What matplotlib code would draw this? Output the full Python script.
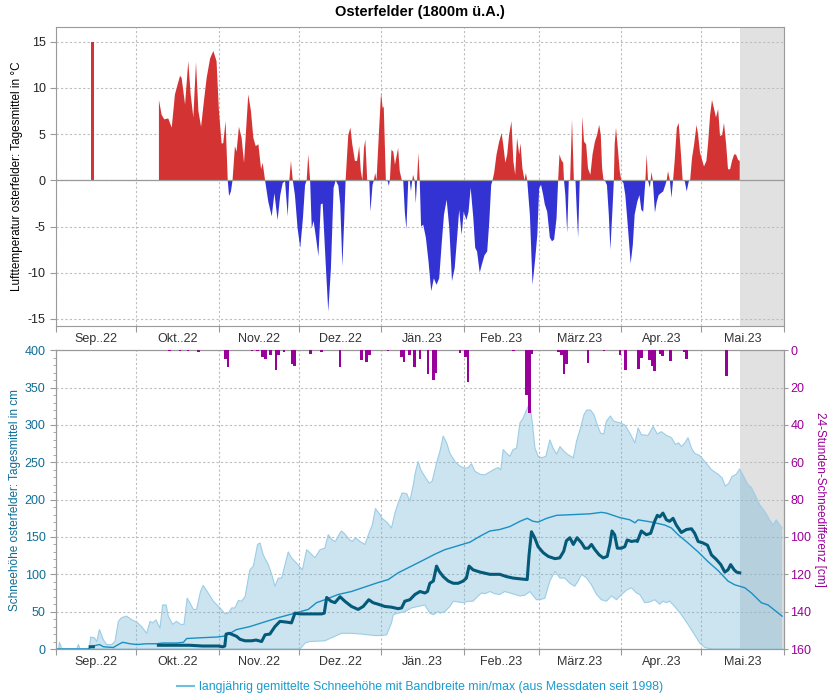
import numpy as np
import matplotlib
matplotlib.use("Agg")
import matplotlib.pyplot as plt
from matplotlib.lines import Line2D
from matplotlib.ticker import MultipleLocator, FixedLocator, NullFormatter

plt.rcParams['font.family'] = ['Liberation Sans', 'DejaVu Sans']
plt.rcParams['axes.unicode_minus'] = False

# x values: days since 2022-09-01
month_starts = [0, 30, 61, 91, 122, 153, 181, 212, 242, 273]
month_labels = ["Sep..22", "Okt..22", "Nov..22", "Dez..22", "Jän..23",
                "Feb..23", "März.23", "Apr..23", "Mai.23"]
last_data_day = 256.4

# daily mean air temperature (°C)
temp_day = [13.3, 14.3, 14.4,
            38.6, 39.6, 40.6, 42.1, 43.4, 44.6, 46.5, 47.1, 48.4, 49.6, 50.5, 51.5, 52.5,
            53.4, 54.4, 55.6, 56.5, 57.8, 59.0, 60.2, 61.1, 62.1, 62.7, 63.6, 64.4, 64.9,
            65.6, 66.2, 67.1, 67.7, 68.6, 69.6, 70.5, 71.1, 72.1, 73.1, 74.0, 74.9, 75.9,
            76.9, 77.5, 78.4, 79.6, 80.9, 81.9, 83.1, 84.1, 85.0, 85.9, 86.9, 87.5, 88.1,
            88.8, 89.6, 90.6, 91.6, 92.6, 93.4, 94.0, 94.6, 95.3, 95.9, 96.6, 97.5, 98.4,
            99.3, 100.0, 101.1, 102.1, 103.1, 104.1, 104.9, 105.9, 106.6, 107.4, 108.1,
            108.6, 109.6, 110.4, 111.1, 112.1,
            112.9, 113.7, 114.3, 114.9, 115.5, 116.0, 116.7, 117.5, 117.9, 118.7, 119.2,
            119.7, 120.2, 121.2, 121.9, 122.5, 122.9, 123.7, 124.3, 124.8, 125.2, 125.8,
            126.5, 127.1, 127.7, 128.3, 128.9, 129.7, 130.2, 130.8, 131.4, 132.1, 132.7,
            133.1, 133.6, 133.9, 134.5, 134.9, 135.4, 135.9, 136.4, 136.9, 137.7, 138.7,
            139.7, 140.7, 141.7, 142.7, 143.7, 144.7, 145.5, 146.5, 147.5, 148.5, 149.5,
            150.5, 151.2, 152.1, 152.9, 153.9, 154.7, 155.5, 156.5, 157.2, 157.9, 158.9,
            159.7, 160.7, 161.7, 162.5, 163.2, 163.7, 164.3, 165.2, 166.2, 167.1, 167.7,
            168.5, 169.2, 169.9, 170.8, 171.5, 172.2, 172.9, 173.7, 174.2, 174.9, 175.7,
            176.2, 176.7, 177.7, 178.7, 179.6, 180.5, 181.2, 181.9, 182.7, 183.3, 184.2,
            185.2, 186.0, 186.8, 187.7, 188.3, 188.8, 189.5, 190.2, 190.5, 191.0, 191.7,
            192.3, 192.8, 193.5, 194.2, 194.8, 195.3, 195.8, 196.4, 196.9, 197.4, 198.0,
            198.8, 199.5, 200.4, 201.2, 202.1, 202.9, 203.7, 204.3, 204.8, 205.3, 205.8,
            206.6, 207.3, 207.9, 208.7, 209.2, 209.5, 210.0, 210.8, 211.4, 212.0, 212.8,
            213.5, 214.5, 215.5, 216.3, 217.0, 218.0, 218.8, 219.5, 220.2, 221.0, 221.5,
            222.0, 222.7, 223.3, 223.8, 224.6, 225.3, 226.0, 226.8, 227.7, 228.5, 229.0,
            229.5, 230.2, 230.8, 231.4, 232.0, 232.8, 233.5, 234.3, 235.0, 235.8, 236.5,
            237.3, 237.8, 238.5, 239.3, 240.2, 240.8, 241.5, 242.3, 243.0, 243.9, 244.5,
            245.3, 246.0, 246.8, 247.5, 248.3, 249.0, 249.8, 250.5, 251.3, 252.0, 252.8,
            253.5, 254.3, 255.0, 255.8, 256.4]
temp_val = [15, 15, np.nan,
            8.7, 7.1, 6.6, 6.7, 5.7, 9.3, 11.3, 11.1, 8.2, 12.9, 9.3, 6.8, 12.8,
            7.5, 5.8, 8.9, 11.1, 13.2, 14.0, 12.9, 7.5, 4.0, 4.0, 6.4, 0, -1.7,
            -1.2, 0, 3.7, 3.1, 5.8, 4.6, 1.9, 4.6, 9.3, 7.5, 4.6, 3.7, 3.9,
            1.2, 1.9, 0, -2.3, -3.9, -1.4, -4.3, -1.6, -0.3, -0.1, -3.9, 0, 2.1,
            0, -1.6, -5.2, -7.3, -4.1, -0.5, 0, 2.8, 0, -5.2, -4.4, -6.2, -8.2,
            -2.6, -2.5, -8.8, -14.2, -9.5, -0.8, 0, -0.6, -2.6, -9.3, -4.1,
            0, 4.9, 5.7, 3.9, 2.1,
            2.1, 3.7, 1.0, 0, 3.5, 4.4, 0, 0, -3.4, -0.5, 0,
            0.8, 0, 5.7, 9.5, 7.8, 8.0, 0, 0, -0.6, 0, 3.3,
            3.1, 1.7, 2.6, 3.5, 1.0, 0, 0, -3.4, -5.3, 0, -0.1,
            -1.2, 0, 0.6, 0, -2.5, 0, 3.0, 0, -5.0, -4.8, -6.2,
            -8.8, -12.0, -10.6, -11.3, -10.6, -6.6, -3.7, -2.1, -5.2, -10.9, -9.5,
            -5.9, -3.2, -5.9, -3.4, -4.3, -3.4, -0.8, -4.1, -7.3, -7.7, -10.0,
            -9.1, -8.1, -7.7, -4.4, -0.5, 0, 0.8, 2.8, 4.2, 5.1, 3.9,
            1.9, 2.8, 4.9, 6.4, 2.1, 0.6, 4.6, 2.8, 4.0, 1.3, 0,
            0.8, 0, -3.7, -11.3, -8.8, -5.9, -0.8, -0.5, -1.6, -2.6, -3.4,
            -6.2, -6.6, -6.4, -4.1, 0, 2.8, 2.2, 1.9, 0, -1.6, -5.7,
            0, 0, 6.6, 0, 0, -3.4, -6.2, 0, 0, 6.9, 4.2,
            3.9, 1.3, 0.6, 2.8, 4.2, 4.9, 6.0, 4.9, 1.3, 0.1, 0,
            -0.5, -3.7, -7.5, -3.0, 0, 3.9, 5.7, 3.1, 1.0, 0, -0.3,
            -1.6, -5.2, -9.0, -7.0, -3.7, -2.3, -1.6, -3.2, -3.4, -0.1, 2.8,
            0, -0.8, 0.9, 0, -3.5, -2.3, -1.6, -1.4, -1.2, -0.5, 0,
            1.0, 0, -1.9, 0, 2.1, 5.7, 6.2, 3.1, 0, -0.1, -1.2,
            -0.1, 0, 2.4, 3.9, 6.0, 4.9, 3.0, 2.2, 1.5, 2.1, 3.9,
            7.1, 8.7, 7.7, 6.8, 7.7, 4.8, 4.9, 6.2, 3.9, 1.2, 1.2,
            2.1, 2.8, 2.8, 2.2, 2.1]

# long-term snow depth band (cm)
band_max_day = [0, 1.0, 1.3, 2.2, 7.8, 8.4, 9.0, 12.5, 13.0, 14.4, 15.3, 16.3, 17.8, 19.0,
                20.9, 22.1, 23.4, 24.6, 26.5, 28.4, 30.3, 32.1, 34.0, 35.3, 36.3, 37.5,
                39.0, 40.0, 41.3, 42.1, 43.7, 45.2, 46.7, 48.0, 49.2, 50.2, 51.5, 52.7,
                54.2, 55.2, 56.7, 59.0, 61.5, 63.4, 64.6, 65.9, 67.1, 68.4, 69.6, 70.9,
                72.7, 74.0, 75.6, 76.5, 77.7, 79.6, 80.9, 82.1, 83.4, 84.6, 85.9, 87.1,
                88.3, 90.2, 92.4, 94.0, 95.2, 97.1, 99.0, 100.8, 102.1, 103.6, 104.8,
                106.1, 107.1, 108.3, 110.2, 111.1, 112.3, 114.0, 115.8, 117.7, 118.6,
                119.8, 121.1, 122.3, 124.3, 125.8, 127.1, 128.3, 129.8, 131.5, 132.7,
                134.0, 134.8, 135.8, 136.8, 138.3, 140.0, 141.1, 142.7, 144.0, 145.2,
                146.5, 147.7, 149.6, 151.4, 153.3, 154.6, 155.8, 157.1, 159.0, 160.8,
                162.1, 164.0, 165.8, 166.8, 167.7, 169.0, 170.2, 171.4, 172.7, 174.0,
                175.2, 176.2, 177.2, 178.0, 178.7, 179.6, 180.8, 182.1, 183.7, 185.2,
                186.4, 187.7, 189.0, 190.4, 192.1, 194.0, 195.2, 196.7, 198.0, 199.0,
                200.4, 201.7, 203.0, 204.2, 205.4, 206.4, 207.9, 209.2, 211.4, 213.3,
                215.2, 217.1, 218.3, 219.5, 222.0, 223.9, 225.5, 227.0, 228.9, 230.8,
                232.3, 233.5, 234.5, 235.8, 237.0, 238.3, 239.5, 241.4, 243.3, 245.8,
                248.3, 249.8, 251.0, 252.3, 253.5, 255.1, 256.4, 257.6, 259.5, 260.8,
                262.0, 263.9, 265.8, 267.6, 268.9, 270.1, 271.4, 272.3]
band_max_val = [0, 0, 9, 0, 0, 6, 0, 0, 16, 15, 10, 26, 12, 6,
                6, 10, 37, 42, 44, 39, 36, 30, 21, 37, 35, 39,
                28, 59, 59, 44, 33, 37, 33, 33, 68, 62, 53, 53,
                77, 85, 77, 64, 55, 47, 48, 55, 55, 65, 64, 70,
                106, 111, 140, 142, 126, 113, 100, 84, 95, 95, 113, 130,
                122, 115, 106, 133, 129, 122, 133, 135, 153, 146, 144,
                153, 158, 154, 146, 144, 149, 144, 140, 158, 166,
                188, 182, 175, 169, 162, 182, 195, 209, 208, 198,
                220, 237, 251, 240, 231, 222, 225, 249, 265, 285,
                276, 262, 251, 245, 242, 243, 248, 238, 234, 233,
                236, 240, 243, 240, 267, 262, 258, 267, 269, 303,
                309, 318, 326, 320, 300, 269, 258, 256, 258, 280,
                269, 261, 271, 265, 260, 256, 278, 296, 314, 320,
                320, 314, 300, 289, 288, 305, 312, 305, 303, 300,
                289, 276, 296, 287, 286, 298, 288, 291, 286, 283,
                274, 276, 271, 276, 283, 269, 262, 259, 251, 240,
                234, 229, 218, 222, 231, 234, 241, 233, 220, 216,
                207, 193, 184, 173, 166, 173, 166, 162]
band_min_day = [0, 91.5, 93.4, 95.2, 100.8, 103.3, 107.1, 110.8, 114.6, 117.1, 119.6,
                122.1, 124.0, 125.8, 126.5, 128.3, 130.8, 133.3, 135.8, 138.3, 140.2,
                141.5, 143.3, 144.0, 145.8, 147.7, 149.0, 150.8, 152.7, 154.6, 156.4,
                158.3, 159.6, 160.8, 162.7, 164.6, 166.4, 168.3, 170.2, 172.1, 174.0,
                175.8, 177.7, 179.0, 180.2, 181.4, 183.3, 185.2, 187.1, 189.0, 190.8,
                192.7, 194.5, 195.8, 197.1, 199.0, 200.8, 202.7, 204.5, 206.4, 208.3,
                210.2, 212.1, 214.0, 215.8, 217.7, 218.9, 220.8, 222.7, 224.5, 226.4,
                227.6, 228.9, 230.1, 232.0, 234.5, 237.0, 239.5, 241.4, 243.3, 244.5,
                247.0, 272.3]
band_min_val = [0, 0, 8, 10, 11, 15, 21, 21, 20, 19, 18,
                18, 19, 35, 46, 48, 50, 55, 57, 59, 48,
                46, 50, 48, 50, 57, 64, 63, 62, 64, 64,
                71, 75, 74, 77, 74, 73, 77, 75, 73, 71,
                72, 77, 71, 66, 66, 68, 91, 104, 95, 95,
                88, 84, 91, 100, 95, 86, 73, 66, 64, 71,
                66, 73, 79, 82, 75, 73, 62, 63, 66, 60,
                64, 62, 64, 57, 46, 33, 19, 8, 2, 1,
                0, 0]

# long-term mean snow depth (cm)
mean_day = [0, 12, 14, 16.3, 17.8, 21.5, 23.4, 25, 27.8, 30.3, 34, 37.7, 40, 45.2, 47.8,
            49, 54, 60.2, 62.7, 65.2, 67.7, 70.2, 72.7, 77.1, 83.4, 89.6, 94.6, 97.7,
            100.8, 105.8, 110.8, 115.8, 120.8, 124.6, 128.3, 133.3, 138.3, 142.1, 145.8,
            147.7, 151.4, 155.2, 159, 162.7, 166.4, 170.2, 174, 176.7, 178.9, 180.8, 184,
            187.7, 194, 200.2, 204.5, 206.4, 211.4, 215.2, 217.1, 218.3, 223.3, 228.3,
            230.8, 233.3, 237, 240.8, 244.5, 248.3, 252, 254.5, 258.3, 260.8, 264.5, 267,
            272.3]
mean_val = [0, 0, 4, 6, 3, 2, 6, 9, 7, 6, 7, 7, 8, 8, 9,
            14, 15, 16, 17, 21, 26, 28, 30, 35, 42, 48, 53, 62,
            66, 73, 77, 83, 89, 93, 102, 111, 120, 127, 133,
            135, 139, 143, 151, 158, 160, 164, 171, 175, 171, 170, 175,
            179, 180, 181, 183, 182, 176, 173, 169, 173, 170, 166,
            162, 153, 142, 130, 117, 105, 91, 86, 82, 75, 62, 59,
            44]

# measured snow depth 2022/23 (cm)
snow_day = [12.8, 14.0, 14.1,
            38.4, 45, 50, 55, 60.9, 62.5, 63.3, 63.8, 65, 67.7, 69, 70.9, 73.4, 75, 77.1,
            78.4, 80.2, 82.1, 84, 86.5, 88.3, 89.6, 91.5, 95.8, 99.6, 100.6, 101.5, 103.1,
            104.6, 106.5, 108.3, 110.8, 113.3, 115.2, 117.3, 118.9, 120.8, 123.3, 125.8,
            128.3, 129.6, 130.8, 132.7, 134.6, 136.5, 138.3, 139.3, 140.2, 141.5, 142.7,
            143.7, 145.2, 147.1, 149, 150.8, 152.7, 153.9, 154.9, 156.4, 159, 162.7, 166.4,
            168.9, 171.4, 173.9, 176.7, 177.4, 178.3, 179.5, 180.8, 182.7, 184.6, 187.1,
            188.9, 190.4, 191.4, 192.7, 194, 195.4, 197.1, 198.3, 199.6, 200.8, 202.1,
            203.7, 205.2, 206.7, 207.7, 208.5, 209.5, 210.5, 212, 213.3, 214.2, 215.8,
            217.4, 218, 219.5, 221.4, 223, 224.5, 225.5, 226.4, 227.6, 228.9, 230.1, 231.4,
            232.6, 234.5, 236.4, 238.3, 239.5, 240.8, 242.6, 244.3, 245.8, 247.6, 249.3,
            250.8, 252, 253, 254.3, 255.2, 256.4]
snow_val = [3, 3, np.nan,
            5, 5, 5, 4, 4, 3, 4, 20, 21, 17, 13, 11, 11, 12, 10,
            19, 20, 30, 37, 36, 35, 48, 47, 47, 47, 48, 69, 64,
            62, 70, 64, 57, 53, 57, 66, 62, 60, 57, 56,
            54, 55, 64, 66, 73, 77, 75, 77, 88, 91, 111,
            104, 97, 91, 88, 88, 91, 95, 111, 106, 103, 100, 100,
            97, 95, 94, 93, 126, 157, 149, 137, 129, 124, 121,
            122, 131, 145, 149, 140, 149, 142, 135, 135, 140, 133,
            126, 122, 124, 140, 158, 153, 135, 135, 137, 146, 144,
            145, 144, 158, 153, 155, 171, 179, 177, 182, 173, 171, 175,
            166, 156, 160, 161, 155, 144, 142, 139, 126, 120, 113,
            103, 106, 113, 106, 103, 102]

# 24-hour new snow (cm)
diff_day = [42, 46, 49, 53, 63, 64, 73, 75, 77, 78, 80, 82, 83, 85, 88, 89, 95, 99, 106,
            114, 116, 117, 124, 129, 130, 132, 134, 136, 139, 141, 142, 151, 153, 154,
            171, 176, 177, 178, 188, 189, 190, 191, 199, 205, 211, 213, 218, 219, 222,
            223, 224, 226, 227, 230, 235, 236, 251]
diff_val = [0.4, 0.4, 0.4, 0.8, 4.6, 8.8, 0.4, 0.4, 3.4, 4.8, 2.5, 10.5, 2.5, 0.7, 7.5,
            8.4, 2.0, 0.7, 8.8, 5.2, 6.1, 2.5, 0.3, 3.4, 6.1, 2.5, 9.1, 4.6, 12.5, 16.0,
            12.0, 1.3, 3.4, 17.0, 0.4, 24.0, 33.8, 1.8, 0.9, 2.7, 12.5, 7.5, 6.9, 0.4,
            2.3, 10.3, 9.8, 4.1, 5.2, 8.2, 10.9, 2.0, 3.3, 5.5, 1.0, 4.5, 14.0]

# ---------------------------------------------------------------- figure
W, H = 840, 700
fig = plt.figure(figsize=(W / 100, H / 100), dpi=100)

def frac(x0, y0, x1, y1):
    return [x0 / W, 1 - y1 / H, (x1 - x0) / W, (y1 - y0) / H]

ax1 = fig.add_axes(frac(56, 27, 784, 326))
ax2 = fig.add_axes(frac(56, 350.3, 784, 649))

grid_kw = dict(color='#bdbdbd', lw=0.8, ls=(0, (2, 2)))
spine_col = '#9a9a9a'
mid = [(month_starts[i] + month_starts[i + 1]) / 2 for i in range(len(month_labels))]

for ax in (ax1, ax2):
    ax.set_xlim(0, 273)
    ax.axvspan(last_data_day, 273, color='#e1e1e1', lw=0, zorder=0)
    ax.xaxis.set_major_locator(FixedLocator(month_starts))
    ax.xaxis.set_major_formatter(NullFormatter())
    ax.xaxis.set_minor_locator(FixedLocator(mid))
    ax.set_xticklabels(month_labels, minor=True)
    ax.tick_params(axis='x', which='major', length=4, color=spine_col)
    ax.tick_params(axis='x', which='minor', length=0, pad=5, labelsize=9,
                   labelcolor='#333333')
    ax.grid(True, which='major', **grid_kw)
    ax.set_axisbelow(True)
    for s in ax.spines.values():
        s.set_color(spine_col)

# ---- temperature panel
td = np.array(temp_day)
tv = np.array(temp_val)
ax1.fill_between(td, tv, 0, where=tv >= 0, interpolate=True, color='#d43333', lw=0, zorder=2)
ax1.fill_between(td, tv, 0, where=tv <= 0, interpolate=True, color='#3333d4', lw=0, zorder=2)
ax1.axhline(0, color='#9a9a9a', lw=0.9, zorder=3)
ax1.set_ylim(-15.76, 16.59)
ax1.set_yticks([-15, -10, -5, 0, 5, 10, 15])
ax1.tick_params(axis='y', length=4, color=spine_col, labelsize=9, labelcolor='#222222')
ax1.set_ylabel("Lufttemperatur osterfelder: Tagesmittel in °C", fontsize=8.5)
ax1.yaxis.set_label_coords(-33 / 728, 0.5)

# ---- snow panel
snow_col = '#0f6e96'
ax2.fill(np.r_[band_max_day, band_min_day[::-1]], np.r_[band_max_val, band_min_val[::-1]],
         facecolor='#6bb3d6', alpha=0.35, edgecolor='none', zorder=2)
ax2.plot(band_max_day, band_max_val, color='#9ccde6', lw=0.8, zorder=2)
ax2.plot(band_min_day, band_min_val, color='#9ccde6', lw=0.8, zorder=2)
ax2.plot(mean_day, mean_val, color='#1a8fc4', lw=1.0, zorder=3)
ax2.plot(snow_day, snow_val, color='#045a78', lw=2.2, zorder=4, solid_joinstyle='round')
ax2.set_ylim(0, 400)
ax2.yaxis.set_major_locator(MultipleLocator(50))
ax2.yaxis.set_minor_locator(MultipleLocator(10))
ax2.tick_params(axis='y', which='major', length=4, color=spine_col, labelsize=9,
                labelcolor=snow_col)
ax2.tick_params(axis='y', which='minor', length=2, color=spine_col)
ax2.set_ylabel("Schneehöhe osterfelder: Tagesmittel in cm", fontsize=8.5, color=snow_col)
ax2.yaxis.set_label_coords(-35 / 728, 0.5)

ax3 = ax2.twinx()
ax3.bar(diff_day, diff_val, width=1, align='edge', color='#990099', lw=0, zorder=5)
ax3.set_ylim(160, 0)
ax3.set_xlim(0, 273)
ax3.yaxis.set_major_locator(MultipleLocator(20))
ax3.tick_params(axis='y', length=3, pad=1.5, color=spine_col, labelsize=9,
                labelcolor='#990099')
ax3.set_ylabel("24-Stunden-Schneedifferenz [cm]", fontsize=8.5, color='#990099',
               rotation=270, va='center')
ax3.yaxis.set_label_coords(1 + 36 / 728, 0.5)
for s in ax3.spines.values():
    s.set_color(spine_col)

# ---- title and legend
fig.text(0.5, 1 - 12 / H, "Osterfelder (1800m ü.A.)", ha='center', va='center',
         fontsize=10.5, fontweight='bold')
handle = Line2D([], [], color='#6cc0e0', lw=1.5)
leg = fig.legend([handle], ["langjährig gemittelte Schneehöhe mit Bandbreite min/max (aus Messdaten seit 1998)"],
                 loc='center', bbox_to_anchor=(0.5, 1 - 687 / H), frameon=False,
                 fontsize=8.8, handlelength=1.4, handletextpad=0.4)
for t in leg.get_texts():
    t.set_color('#1a9ad0')

fig.savefig("out.png", dpi=100)
